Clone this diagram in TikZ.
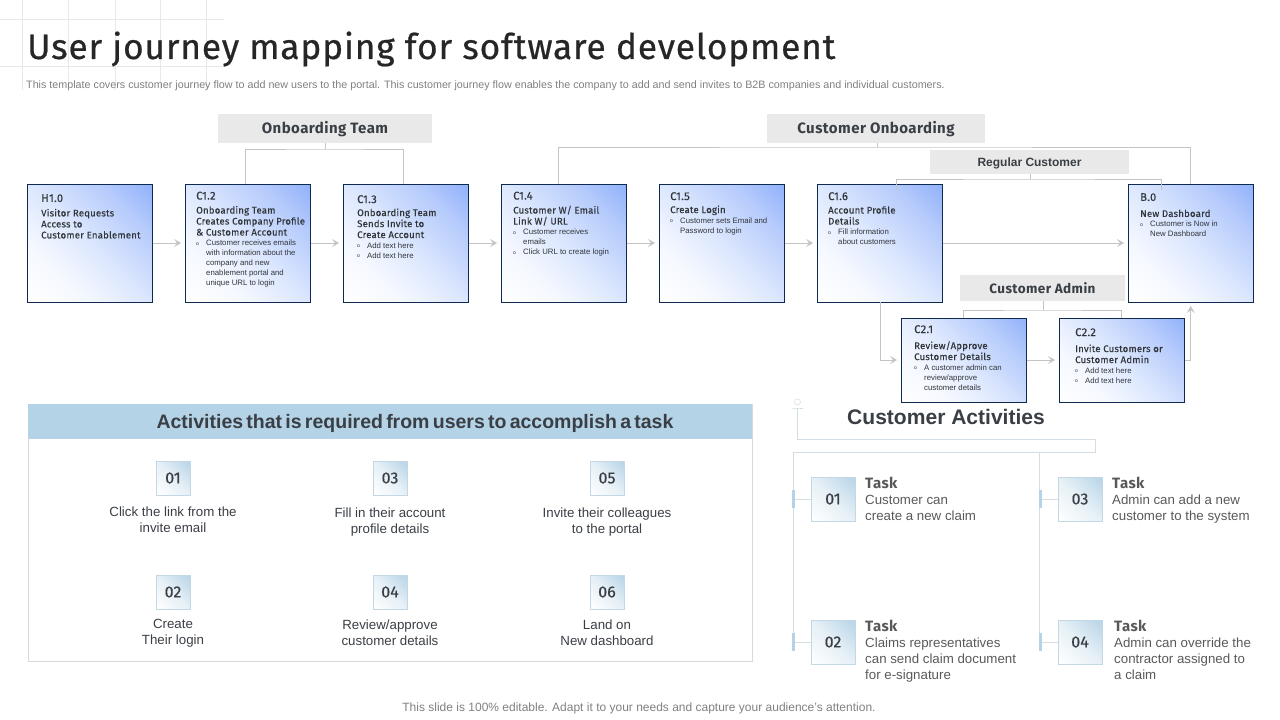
\documentclass[tikz,border=0pt]{standalone}
\usepackage{fontspec}
\setmainfont{Liberation Sans}
\newfontfamily\dinfont[LetterSpace=2,FakeBold=0.12]{Fira Sans}
\newfontfamily\headfont[LetterSpace=3]{Fira Sans}
\newfontfamily\numfont[FakeBold=0.4]{Fira Sans}
\newfontfamily\titlefont[LetterSpace=2.5,FakeBold=0.6]{Fira Sans}
\newfontfamily\panelfont[WordSpace=0.6]{Liberation Sans}
\usetikzlibrary{arrows.meta,positioning}
\definecolor{boxblue}{HTML}{8FB0FA}
\definecolor{boxmid}{HTML}{DCE7FE}
\definecolor{boxpale}{HTML}{F5F8FF}
\definecolor{boxsoft}{HTML}{B7CCFC}
\definecolor{boxline}{HTML}{0F2A50}
\definecolor{linkgray}{HTML}{C4C4C4}
\definecolor{headgray}{HTML}{E9E9E9}
\definecolor{panelblue}{HTML}{B5D3E7}
\definecolor{numline}{HTML}{C3D8E4}
\definecolor{thingray}{HTML}{D3DDE3}
\definecolor{nummid}{HTML}{E6F0F6}
\definecolor{inkdark}{HTML}{3A3F45}
\definecolor{inkgray}{HTML}{595959}
\pgfdeclareverticalshading{boxshade}{100bp}{color(0bp)=(white); color(15bp)=(white); color(32bp)=(boxpale); color(50bp)=(boxmid); color(70bp)=(boxsoft); color(86bp)=(boxblue); color(100bp)=(boxblue)}
\pgfdeclareverticalshading{numshade}{100bp}{color(0bp)=(white); color(15bp)=(white); color(50bp)=(nummid); color(86bp)=(panelblue); color(100bp)=(panelblue)}
\newcommand{\bul}[1]{\makebox[10pt][l]{\raisebox{0.4pt}{\fontsize{5}{5}\selectfont o}}#1}
\newcommand{\cont}[1]{\hspace*{10pt}#1}
\newcommand{\boxid}[1]{{\dinfont\fontsize{11.2}{11}\selectfont #1}}
\newcommand{\boxhead}[1]{{\dinfont\fontsize{9.6}{11}\selectfont #1}}
\newcommand{\hl}[1]{\boxhead{#1}\\[1pt]}
\tikzset{
  stepbox/.style={draw=boxline,line width=1pt,shade,shading=boxshade,shading angle=-45,minimum width=125.5pt,minimum height=118pt,inner sep=0pt,outer sep=0pt,anchor=north west},
  smallbox/.style={stepbox,minimum height=84pt},
  boxtext/.style={anchor=north west,inner sep=0pt,align=left,text=inkdark!85!black,font=\fontsize{7.8}{10}\selectfont},
  teamhead/.style={fill=headgray,inner sep=0pt,outer sep=0pt,anchor=north west,text=inkdark,text height=11pt,text depth=1pt,font=\headfont\bfseries\fontsize{15}{16}\selectfont},
  link/.style={draw=linkgray,line width=1pt},
  flow/.style={link,-{Stealth[length=7pt,width=8pt,inset=3pt]},shorten >=4pt},
  numbox/.style={draw=numline,shade,shading=numshade,shading angle=-45,inner sep=0pt,outer sep=0pt,text=inkdark,font=\numfont\fontsize{16}{16}\selectfont},
  itemtext/.style={align=center,text=inkdark,font=\fontsize{13.3}{16}\selectfont},
  tasktext/.style={anchor=north west,inner sep=0pt,align=left,text=inkgray,font=\fontsize{13.3}{16}\selectfont},
  thinline/.style={draw=thingray,line width=0.8pt},
  tick/.style={draw=panelblue,line width=3pt}
}
\begin{document}
\begin{tikzpicture}[x=1pt,y=-1pt]
\useasboundingbox (0,0) rectangle (1280,720);
% faint grid behind the title
\foreach \gx in {22,68,115,160,206}
  \draw[black!9,line width=0.6pt] (\gx,0) -- (\gx,90);
\foreach \gy in {19,66}
  \draw[black!9,line width=0.6pt] (0,\gy) -- (224,\gy);
\node[anchor=west,inner sep=0pt,text=black!85] (title) at (27,49) {\titlefont\fontsize{35.2}{40}\selectfont User journey mapping for software development};
\node[anchor=west,inner sep=0pt,text=black!50,font=\fontsize{10.74}{12}\selectfont] (subtitle) at (26,86) {This template covers customer journey flow to add new users to the portal. This customer journey flow enables the company to add and send invites to B2B companies and individual customers.};
% team headers
\node[teamhead,minimum width=214pt,minimum height=29pt] (onbteam) at (218,114) {Onboarding Team};
\node[teamhead,minimum width=218pt,minimum height=29pt] (custonb) at (767,114) {Customer Onboarding};
\node[teamhead,minimum width=199pt,minimum height=24pt,font=\fontsize{12}{14}\selectfont\bfseries,text height=9pt,text depth=0pt] (regular) at (930,150) {Regular Customer};
\node[teamhead,minimum width=165pt,minimum height=26pt,font=\headfont\bfseries\fontsize{13.5}{16}\selectfont] (custadm) at (960,275) {Customer Admin};
% boxes
\node[stepbox] (h10) at (27,184) {};
\node[stepbox] (c12) at (185,184) {};
\node[stepbox] (c13) at (343,184) {};
\node[stepbox] (c14) at (501,184) {};
\node[stepbox] (c15) at (659,184) {};
\node[stepbox] (c16) at (817,184) {};
\node[stepbox] (b0) at (1128,184) {};
\node[smallbox] (c21) at (901,318) {};
\node[smallbox] (c22) at (1059,318) {};
\node[boxtext] (h10t) at (41,194) {\boxid{H1.0}\\[4.5pt]\hl{Visitor Requests}\hl{Access  to}\boxhead{Customer Enablement}};
\node[boxtext] (c12t) at (196,191.5) {\boxid{C1.2}\\[4pt]\hl{Onboarding Team}\hl{Creates Company Profile}\boxhead{\& Customer Account}\\\bul{Customer receives emails}\\\cont{with information about the}\\\cont{company and new}\\\cont{enablement portal and}\\\cont{unique URL to login}};
\node[boxtext] (c13t) at (357,195) {\boxid{C1.3}\\[3pt]\hl{Onboarding Team}\hl{Sends Invite to}\boxhead{Create Account}\\\bul{Add text here}\\\bul{Add text here}};
\node[boxtext] (c14t) at (513,191.5) {\boxid{C1.4}\\[4pt]\hl{Customer W/ Email}\boxhead{Link W/ URL}\\\bul{Customer receives}\\\cont{emails}\\\bul{Click URL to create login}};
\node[boxtext] (c15t) at (670,192) {\boxid{C1.5}\\[3pt]\boxhead{Create Login}\\\bul{Customer sets Email and}\\\cont{Password to login}};
\node[boxtext] (c16t) at (828,192) {\boxid{C1.6}\\[3.5pt]\hl{Account Profile}\boxhead{Details}\\\bul{Fill information}\\\cont{about customers}};
\node[boxtext] (b0t) at (1140,193) {\boxid{B.0}\\[6pt]\boxhead{New Dashboard}\\\bul{Customer is Now in}\\\cont{New Dashboard}};
\node[boxtext] (c21t) at (914,325) {\boxid{C2.1}\\[6pt]\hl{Review/Approve}\boxhead{Customer Details}\\\bul{A customer admin can}\\\cont{review/approve}\\\cont{customer details}};
\node[boxtext] (c22t) at (1075,328) {\boxid{C2.2}\\[6pt]\hl{Invite Customers or}\boxhead{Customer Admin}\\\bul{Add text here}\\\bul{Add text here}};
% brackets
\coordinate (onbbar) at (325,149);
\coordinate (custbar) at (877,147);
\coordinate (regbar) at (1030,179);
\coordinate (admbar) at (1043,310);
\draw[link] ([xshift=-2pt]c12.north) |- (onbbar) -| ([xshift=-2pt]c13.north);
\draw[link] (onbteam.south -| onbbar) -- (onbbar);
\draw[link] ([xshift=-5pt]c14.north) |- (custbar) -| (b0.north);
\draw[link] (custonb.south -| custbar) -- (custbar);
\draw[link] ([xshift=17pt,yshift=-6pt]c16.north) |- (regbar) -| ([xshift=-29pt,yshift=-6pt]b0.north);
\draw[link] (regular.south -| regbar) -- (regbar);
\draw[link] (c21.north) |- (admbar) -| (c22.north);
\draw[link] (custadm.south -| admbar) -- (admbar);
% flow arrows
\draw[flow] (h10.east |- 0,243) -- (c12.west |- 0,243);
\draw[flow] (c12.east |- 0,243) -- (c13.west |- 0,243);
\draw[flow] (c13.east |- 0,243) -- (c14.west |- 0,243);
\draw[flow] (c14.east |- 0,243) -- (c15.west |- 0,243);
\draw[flow] (c15.east |- 0,243) -- (c16.west |- 0,243);
\draw[flow] (c16.east |- 0,243) -- (b0.west |- 0,243);
\draw[flow] ([xshift=1pt]c16.south) |- (c21.west);
\draw[flow] (c21.east) -- (c22.west);
\draw[flow] (c22.east) -| (b0.south);
% lower left panel
\node[draw=black!15,line width=1pt,minimum width=724pt,minimum height=257pt,inner sep=0pt,outer sep=0pt,anchor=north west] (panel) at (28,404) {};
\node[fill=panelblue,minimum width=724pt,minimum height=35pt,inner sep=0pt,outer sep=0pt,anchor=north west,text=inkdark,text height=14pt,text depth=1pt,font=\panelfont\bfseries\fontsize{19.5}{22}\selectfont] (panelhead) at (28,404) {\hspace*{50pt}Activities that is required from users to accomplish a task};
\foreach \nid/\nx/\ny/\gap/\num/\txt in {
  a1/173/478/8/01/{Click the link from the\\invite email},
  a2/173/592/7/02/{Create\\Their login},
  a3/390/478/9/03/{Fill in their account\\profile details},
  a4/390/592/7/04/{Review/approve\\customer details},
  a5/607/478/9/05/{Invite their colleagues\\to the portal},
  a6/607/592/7/06/{Land on\\New dashboard}}{
  \node[numbox,minimum size=34pt] (\nid) at (\nx,\ny) {\num};
  \node[itemtext,below=\gap pt of \nid] (\nid t) {\txt};
}
% customer activities
\node[anchor=west,inner sep=0pt,text=inkdark,font=\bfseries\fontsize{21.05}{24}\selectfont] (acttitle) at (847,417) {Customer Activities};
\node[circle,draw=numline,minimum size=6pt,inner sep=0pt] (pin) at (797.5,402) {};
\coordinate (pinbase) at (797.5,408);
\coordinate (elbow) at (797.5,439);
\coordinate (barright) at (1095,452);
\coordinate (barleft) at (793,452);
\coordinate (barmid) at (1039,452);
\draw[thinline] (792,408) -- (pinbase) -- (803,408);
\draw[thinline] (pinbase) -- (elbow) -| (barright) -- (barleft) -- (793,651);
\draw[thinline] (barmid) -- (1039,651);
\foreach \tid/\tx/\ty/\num/\lx/\txt in {
  t1/833/499/01/865/{Customer can\\create a new claim},
  t2/833/642/02/865/{Claims representatives\\can send claim document\\for e-signature},
  t3/1080/499/03/1112/{Admin can add a new\\customer to the system},
  t4/1080/642/04/1114/{Admin can override the\\contractor assigned to\\a claim}}{
  \node[numbox,minimum size=44pt] (\tid) at (\tx,\ty) {\num};
  \draw[thinline] (\tid.west) -- ++(-18,0);
  \draw[tick] ([xshift=-18pt,yshift=9pt]\tid.west) -- ([xshift=-18pt,yshift=-9pt]\tid.west);
  \node[tasktext] (\tid t) at (\lx,\ty-22) {{\headfont\bfseries\fontsize{15}{16}\selectfont Task}\\\txt};
}
\node[inner sep=0pt,text=black!50,font=\fontsize{12}{14}\selectfont] (footer) at (639,708) {This slide is 100\% editable. Adapt it to your needs and capture your audience's attention.};
\end{tikzpicture}
\end{document}
